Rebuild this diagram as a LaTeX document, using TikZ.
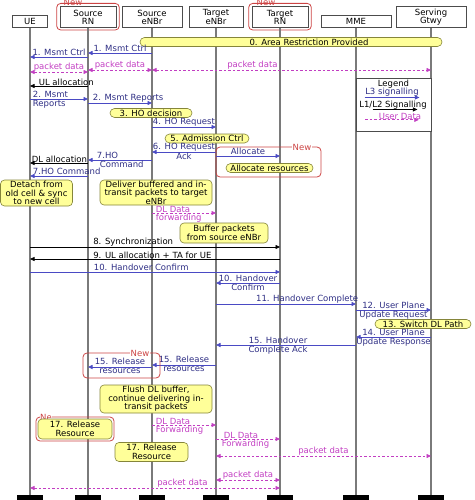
\documentclass[tikz,border=0pt]{standalone}
\usepackage{fontspec}
\setmainfont{DejaVu Sans}
\usetikzlibrary{arrows.meta}
\definecolor{sigblue}{HTML}{4A4AC4}
\definecolor{signavy}{HTML}{2E2E84}
\definecolor{udmag}{HTML}{C23EC2}
\definecolor{notefill}{HTML}{FFFF99}
\definecolor{noteline}{HTML}{85853A}
\definecolor{newred}{HTML}{CC4444}
\definecolor{lifegray}{HTML}{7A7A7A}
\tikzset{
  txt/.style={font=\fontsize{8.5}{8.5}\selectfont, inner sep=0.5pt},
  head/.style={txt, draw=black!70, fill=white, line width=0.6pt, anchor=south, align=center, minimum height=12pt},
  life/.style={draw=lifegray, line width=1.1pt},
  l3/.style={draw=sigblue, line width=0.8pt, -{Triangle[length=4.5pt,width=4pt]}},
  l12/.style={draw=black, line width=0.6pt, -{Triangle[length=4.5pt,width=4pt]}},
  ud/.style={draw=udmag, line width=0.7pt, dash pattern=on 2.5pt off 2pt, -{Triangle[length=4.5pt,width=4pt]}},
  ud2/.style={ud, {Triangle[length=4.5pt,width=4pt]}-{Triangle[length=4.5pt,width=4pt]}},
  t3/.style={txt, text=signavy},
  t12/.style={txt, text=black},
  tud/.style={txt, text=udmag},
  note/.style={txt, draw=noteline, fill=notefill, rounded corners=4pt, align=center, line width=0.6pt},
  oval/.style={note, rounded corners=4.5pt, minimum height=9pt},
  newbox/.style={draw=newred, rounded corners=4pt, line width=0.8pt},
  newtag/.style={txt, text=newred, fill=white, inner sep=0.3pt},
}
\begin{document}
\begin{tikzpicture}[x=1pt,y=-1pt]
\useasboundingbox (0,0) rectangle (474,500);
% heads
\node[head, minimum width=35pt] (ue) at (30,28) {UE};
\node[head, minimum width=56pt, minimum height=21pt] (srn) at (88,28) {Source\\RN};
\node[head, minimum width=60pt, minimum height=21pt] (senb) at (152,28) {Source\\eNBr};
\node[head, minimum width=54pt, minimum height=21pt] (tenb) at (216,28) {Target\\eNBr};
\node[head, minimum width=56pt, minimum height=21pt] (trn) at (280,28) {Target\\RN};
\node[head, minimum width=70pt] (mme) at (356,28) {MME};
\node[head, minimum width=70pt, minimum height=21pt] (gw) at (431,28) {Serving\\Gtwy};
\draw[newbox] ([xshift=-3pt,yshift=3pt]srn.north west) rectangle ([xshift=3pt,yshift=-2pt]srn.south east);
\draw[newbox] ([xshift=-3pt,yshift=3pt]trn.north west) rectangle ([xshift=3pt,yshift=-2pt]trn.south east);
\node[txt, text=newred, anchor=base west] (newsrn) at (63,5.5) {New};
\node[txt, text=newred, anchor=base west] (newtrn) at (256,5.5) {New};
\foreach \n in {ue,srn,senb,tenb,trn,mme,gw} {
  \draw[life] (\n.south) -- (\n |- 0,495);
  \fill (\n |- 0,495) ++(-13,0) rectangle ++(26,5);
}
% legend
\draw[draw=black!70, fill=white, line width=0.6pt] (356,78) rectangle (431,131);
\node[t12] (lgtitle) at (393.5,84) {Legend};
\node[t3, anchor=base] (lgl3) at (392,95) {L3 signalling};
\draw[l3] (lgl3.south west) -- (lgl3.south east);
\node[t12, anchor=base] (lgl12) at (393,107) {L1/L2 Signalling};
\draw[l12] ([xshift=14pt]lgl12.south west) -- ([xshift=-10pt]lgl12.south east);
\node[tud, anchor=base] (lgud) at (400,119) {User Data};
\draw[ud] ([xshift=-13pt]lgud.south west) -- ([xshift=-3pt]lgud.south east);
% messages
\node[oval, minimum width=302pt] (arp) at (291,42) {};
\node[t12] (arptext) at (309,42) {0. Area Restriction Provided};
\draw[l3] (senb |- 0,53) -- node[t3,above] (m1a) {1. Msmt Ctrl} (srn |- 0,53);
\draw[l3] (srn |- 0,57) -- node[t3,above] (m1b) {1. Msmt Ctrl} (ue |- 0,57);
\draw[ud2] (ue |- 0,72) -- node[tud,above] (pd1) {packet data} (srn |- 0,72);
\draw[ud2] (srn |- 0,70) -- node[tud,above] (pd2) {packet data} (senb |- 0,70);
\draw[ud2] (senb |- 0,70) -- node[tud,above,pos=0.36] (pd3) {packet data} (gw |- 0,70);
\draw[l12] (srn |- 0,86) -- node[t12,pos=1,above right,xshift=8pt] (m2) {UL allocation} (ue |- 0,86);
\draw[l3] (ue |- 0,99) -- node[t3,pos=0,above right,xshift=2pt] (m3a) {2. Msmt} node[t3,pos=0,below right,xshift=2pt] (m3b) {Reports} (srn |- 0,99);
\draw[l3] (srn |- 0,103) -- node[t3,pos=0,above right,xshift=4pt] (m3c) {2. Msmt Reports} (senb |- 0,103);
\node[oval, minimum width=82pt] (hod) at (151,113) {3. HO decision};
\draw[l3] (senb |- 0,127) -- node[t3,pos=0,above right] (m4) {4. HO Request} (tenb |- 0,127);
\node[oval, minimum width=84pt] (adm) at (207,138.5) {5. Admission Ctrl};
\draw[l3] (tenb |- 0,152) -- node[t3,above] (m6a) {6. HO Request} node[t3,below] (m6b) {Ack} (senb |- 0,152);
\draw[newbox] (216,147) rectangle (321,177);
\node[newtag] (newalloc) at (302,147) {New};
\draw[l3] (tenb |- 0,156) -- node[t3,above] (m6c) {Allocate} (trn |- 0,156);
\node[oval, minimum width=87pt] (allres) at (269.5,168) {Allocate resources};
\draw[l3] (senb |- 0,160) -- node[t3,pos=1,above right,xshift=8pt] (m7a) {7.HO} node[t3,pos=1,below right,xshift=11pt] (m7b) {Command} (srn |- 0,160);
\draw[l12] (srn |- 0,163) -- node[t12,pos=1,above right,xshift=1pt] (m7c) {DL allocation} (ue |- 0,163);
\draw[l3] (srn |- 0,176) -- node[t3,pos=1,above right,xshift=2pt] (m7d) {7.HO Command} (ue |- 0,176);
\node[note, minimum width=72pt, minimum height=26pt] (detach) at (36.5,193) {Detach from\\old cell \& sync\\to new cell};
\node[note, minimum width=112pt, minimum height=25pt] (deliver) at (156,192.5) {Deliver buffered and in-\\transit packets to target\\eNBr};
\draw[ud] (senb |- 0,213) -- node[tud,pos=0,above right,xshift=3pt] (dl1a) {DL Data} node[tud,pos=0,below right,xshift=3pt] (dl1b) {forwarding} (tenb |- 0,213);
\node[note, minimum width=88pt, minimum height=20pt] (bufp) at (224,233) {Buffer packets\\from source eNBr};
\draw[l12] (ue |- 0,247) -- node[t12,pos=0.25,above right] (m8) {8. Synchronization} (trn |- 0,247);
\draw[l12] (trn |- 0,259) -- node[t12,pos=0.75,above right] (m9) {9. UL allocation + TA for UE} (ue |- 0,259);
\draw[l3] (ue |- 0,272) -- node[t3,pos=0.252,above right] (m10a) {10. Handover Confirm} (trn |- 0,272);
\draw[l3] (trn |- 0,283) -- node[t3,above] (m10b) {10. Handover} node[t3,below] (m10c) {Confirm} (tenb |- 0,283);
\draw[l3] (tenb |- 0,304) -- node[t3,pos=0.28,above right] (m11) {11. Handover Complete} (mme |- 0,304);
\draw[l3] (mme |- 0,310) -- node[t3,above] (m12a) {12. User Plane} node[t3,below] (m12b) {Update Request} (gw |- 0,310);
\node[oval, minimum width=96pt] (swdl) at (423,324) {13. Switch DL Path};
\draw[l3] (gw |- 0,337) -- node[t3,above] (m14a) {14. User Plane} node[t3,below] (m14b) {Update Response} (mme |- 0,337);
\draw[l3] (mme |- 0,345) -- node[t3,pos=0.557,above] (m15a) {15. Handover} node[t3,pos=0.557,below] (m15b) {Complete Ack} (tenb |- 0,345);
\draw[l3] (tenb |- 0,365) -- node[t3,above,yshift=1pt] (m15c) {15. Release} node[t3,below,yshift=-1pt] (m15d) {resources} (senb |- 0,365);
\draw[newbox] (83,353) rectangle (160,378);
\node[newtag] (newrel) at (140,353) {New};
\draw[l3] (senb |- 0,367) -- node[t3,above,yshift=1pt] (m15e) {15. Release} node[t3,below,yshift=-1pt] (m15f) {resources} (srn |- 0,367);
\node[note, minimum width=112pt, minimum height=28pt] (flush) at (156,399) {Flush DL buffer,\\continue delivering in-\\transit packets};
\draw[newbox] (36,417) rectangle (114,441);
\node[newtag] (newrel17) at (46,417) {Ne};
\node[note, minimum width=74pt, minimum height=20pt] (rel17a) at (75,429) {17. Release\\Resource};
\draw[ud] (senb |- 0,425) -- node[tud,pos=0,above right,xshift=3pt] (dl2a) {DL Data} node[tud,pos=0,below right,xshift=3pt] (dl2b) {Forwarding} (tenb |- 0,425);
\draw[ud] (tenb |- 0,439) -- node[tud,pos=0,above right,xshift=7pt] (dl3a) {DL Data} node[tud,pos=0,below right,xshift=5pt] (dl3b) {Forwarding} (trn |- 0,439);
\node[note, minimum width=73pt, minimum height=19pt] (rel17b) at (151.5,452) {17. Release\\Resource};
\draw[ud2] (tenb |- 0,456) -- node[tud,above] (pd4) {packet data} (gw |- 0,456);
\draw[ud2] (tenb |- 0,480) -- node[tud,above] (pd5) {packet data} (trn |- 0,480);
\draw[ud2] (ue |- 0,488) -- node[tud,pos=0.61,above] (pd6) {packet data} (trn |- 0,488);
\end{tikzpicture}
\end{document}
